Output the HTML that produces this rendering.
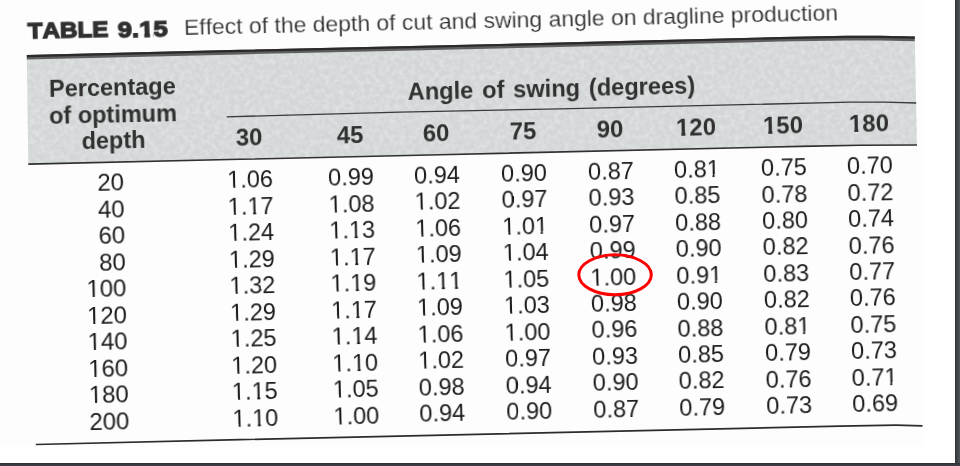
<!DOCTYPE html>
<html><head><meta charset="utf-8"><title>TABLE 9.15</title>
<style>
html,body{margin:0;padding:0;background:#fff;}
body{width:960px;height:466px;overflow:hidden;position:relative;font-family:"Liberation Sans",sans-serif;}
#page{position:absolute;left:0;top:0;width:960px;height:466px;overflow:hidden;background:#fff;}
#paper{position:absolute;left:0;top:0;width:924.8px;height:445.6px;background:#fdfdfd;}
#rot{position:absolute;left:0;top:0;width:960px;height:466px;transform-origin:0 0;transform:rotate(-1.28deg);will-change:transform;}
#rot div{position:absolute;white-space:nowrap;line-height:1;color:#1c1c1c;font-kerning:none;}
#rot .r{-webkit-text-stroke:0.0px #fdfdfd;}
#rot .ct{-webkit-text-stroke:0.25px #fdfdfd;color:#222;}
#rot .b{font-weight:bold;color:#303030;}
.o{position:relative;display:inline-block;}
.o::before,.o::after{content:"";position:absolute;top:0.7em;height:0.23em;background:#fdfdfd;}
.o::before{left:0.02em;width:0.228em;}
.o::after{left:0.344em;width:0.21em;}
.b .o::before,.b .o::after{top:0.66em;height:0.27em;background:#d7dadb;}
.b .o::before{left:0.01em;width:0.22em;}
.b .o::after{left:0.374em;width:0.19em;}
.cap .o::before,.cap .o::after{background:#fdfdfd;top:0.6em;height:0.36em;}
.cap .o::before{left:-0.03em;width:0.228em;}
.cap .o::after{left:0.405em;width:0.158em;}
#bR{position:absolute;left:955px;top:0;width:5px;height:466px;background:linear-gradient(90deg,#2f3235,#53575b);}
#bB{position:absolute;left:0;top:463px;width:960px;height:3px;background:linear-gradient(180deg,#2e3134,#3f4346);}
svg{position:absolute;left:0;top:0;}
</style></head><body>
<div id="page">
<div id="paper"></div>
<svg width="960" height="466" viewBox="0 0 960 466">
<defs><filter id="nz" x="0" y="0" width="100%" height="100%"><feTurbulence type="fractalNoise" baseFrequency="0.2" numOctaves="2" seed="7"/><feColorMatrix type="matrix" values="0 0 0 0 1  0 0 0 0 1  0 0 0 0 1  1.8 0 0 0 -0.6"/></filter><clipPath id="bc"><polygon points="26.80,58.50 240.00,53.30 400.00,49.70 560.00,46.00 620.00,44.50 780.00,40.50 847.00,39.30 880.00,39.30 914.80,40.10 917.00,145.00 860.00,145.30 800.00,146.40 440.00,154.70 240.00,159.30 28.30,164.10"/></clipPath></defs>
<polygon fill="#d2d6d7" points="26.80,58.50 240.00,53.30 400.00,49.70 560.00,46.00 620.00,44.50 780.00,40.50 847.00,39.30 880.00,39.30 914.80,40.10 917.00,145.00 860.00,145.30 800.00,146.40 440.00,154.70 240.00,159.30 28.30,164.10"/>
<g clip-path="url(#bc)"><rect x="20" y="30" width="905" height="140" filter="url(#nz)" opacity="0.36"/></g>
<polygon fill="#5e5e5e" points="26.80,55.00 240.00,49.80 400.00,46.20 560.00,42.50 620.00,41.00 780.00,37.00 847.00,35.80 880.00,35.80 914.80,36.60 914.80,41.20 880.00,40.40 847.00,40.40 780.00,41.60 620.00,45.60 560.00,47.10 400.00,50.80 240.00,54.40 26.80,59.60"/>
<polygon fill="#2a2a2a" points="26.80,55.00 240.00,49.80 400.00,46.20 560.00,42.50 620.00,41.00 780.00,37.00 847.00,35.80 880.00,35.80 914.80,36.60 914.80,38.80 880.00,38.00 847.00,38.00 780.00,39.20 620.00,43.20 560.00,44.70 400.00,48.40 240.00,52.00 26.80,57.20"/>
<polygon fill="#3a3a3a" points="226.70,116.15 290.00,114.45 400.00,111.55 560.00,108.25 850.00,101.55 885.00,101.55 916.20,102.35 916.20,103.65 885.00,102.85 850.00,102.85 560.00,109.55 400.00,112.85 290.00,115.75 226.70,117.45"/>
<polygon fill="#303030" points="28.30,163.30 240.00,158.50 440.00,153.90 800.00,145.60 860.00,144.50 917.00,144.20 917.00,145.80 860.00,146.10 800.00,147.20 440.00,155.50 240.00,160.10 28.30,164.90"/>
<polygon fill="#2c2c2c" points="35.80,443.65 240.00,438.75 720.00,428.05 840.00,425.35 896.00,424.35 922.50,425.05 922.50,426.75 896.00,426.05 840.00,427.05 720.00,429.75 240.00,440.45 35.80,445.35"/>
</svg>
<div id="rot">
<div class="cap" style="left:27.00px;top:20.92px;font-size:22.3px;font-weight:bold;transform-origin:0 0;-webkit-text-stroke:1.3px #303030;color:#303030;transform:scaleX(1.085);">TABLE</div>
<div class="cap" style="left:117.20px;top:21.62px;font-size:22.3px;font-weight:bold;transform-origin:0 0;-webkit-text-stroke:1.3px #303030;color:#303030;transform:scaleX(1.15);">9.<span class="o">1</span>5</div>
<div class="ct" style="left:183.30px;top:20.37px;font-size:22.95px;">Effect of the depth of cut and swing angle on dragline production</div>
<div class="b" style="left:110.40px;top:78.91px;font-size:23.5px;transform:translateX(-50%) scaleX(1);">Percentage</div>
<div class="b" style="left:110.40px;top:105.91px;font-size:23.5px;transform:translateX(-50%) scaleX(1);">of optimum</div>
<div class="b" style="left:110.40px;top:131.81px;font-size:23.5px;transform:translateX(-50%) scaleX(1);">depth</div>
<div class="b" style="left:405.60px;top:89.92px;font-size:23.6px;word-spacing:2.3px;">Angle of swing (degrees)</div>
<div class="b" style="left:246.30px;top:132.19px;font-size:23.4px;transform:translateX(-50%) scaleX(1.02);">30</div>
<div class="b" style="left:347.20px;top:132.19px;font-size:23.4px;transform:translateX(-50%) scaleX(1.02);">45</div>
<div class="b" style="left:433.00px;top:132.19px;font-size:23.4px;transform:translateX(-50%) scaleX(1.02);">60</div>
<div class="b" style="left:520.20px;top:132.19px;font-size:23.4px;transform:translateX(-50%) scaleX(1.02);">75</div>
<div class="b" style="left:606.90px;top:132.19px;font-size:23.4px;transform:translateX(-50%) scaleX(1.02);">90</div>
<div class="b" style="left:693.00px;top:132.19px;font-size:23.4px;transform:translateX(-50%) scaleX(1.02);"><span class="o">1</span>20</div>
<div class="b" style="left:780.00px;top:132.19px;font-size:23.4px;transform:translateX(-50%) scaleX(1.02);"><span class="o">1</span>50</div>
<div class="b" style="left:866.40px;top:132.19px;font-size:23.4px;transform:translateX(-50%) scaleX(1.02);"><span class="o">1</span>80</div>
<div class="r" style="left:120.00px;top:174.43px;font-size:23.35px;transform-origin:100% 50%;transform:translateX(-100%) scaleX(1.03);">20</div>
<div class="r" style="left:246.30px;top:174.43px;font-size:23.35px;transform:translateX(-50%) scaleX(1.01);"><span class="o">1</span>.06</div>
<div class="r" style="left:347.20px;top:174.43px;font-size:23.35px;transform:translateX(-50%) scaleX(1.01);">0.99</div>
<div class="r" style="left:433.00px;top:174.03px;font-size:23.35px;transform:translateX(-50%) scaleX(1.01);">0.94</div>
<div class="r" style="left:520.20px;top:174.03px;font-size:23.35px;transform:translateX(-50%) scaleX(1.01);">0.90</div>
<div class="r" style="left:606.90px;top:173.83px;font-size:23.35px;transform:translateX(-50%) scaleX(1.01);">0.87</div>
<div class="r" style="left:693.00px;top:173.83px;font-size:23.35px;transform:translateX(-50%) scaleX(1.01);">0.8<span class="o">1</span></div>
<div class="r" style="left:780.00px;top:174.13px;font-size:23.35px;transform:translateX(-50%) scaleX(1.01);">0.75</div>
<div class="r" style="left:866.40px;top:174.23px;font-size:23.35px;transform:translateX(-50%) scaleX(1.01);">0.70</div>
<div class="r" style="left:120.00px;top:200.92px;font-size:23.35px;transform-origin:100% 50%;transform:translateX(-100%) scaleX(1.03);">40</div>
<div class="r" style="left:246.30px;top:200.92px;font-size:23.35px;transform:translateX(-50%) scaleX(1.01);"><span class="o">1</span>.<span class="o">1</span>7</div>
<div class="r" style="left:347.20px;top:200.89px;font-size:23.35px;transform:translateX(-50%) scaleX(1.01);"><span class="o">1</span>.08</div>
<div class="r" style="left:433.00px;top:200.47px;font-size:23.35px;transform:translateX(-50%) scaleX(1.01);"><span class="o">1</span>.02</div>
<div class="r" style="left:520.20px;top:200.47px;font-size:23.35px;transform:translateX(-50%) scaleX(1.01);">0.97</div>
<div class="r" style="left:606.90px;top:200.26px;font-size:23.35px;transform:translateX(-50%) scaleX(1.01);">0.93</div>
<div class="r" style="left:693.00px;top:200.29px;font-size:23.35px;transform:translateX(-50%) scaleX(1.01);">0.85</div>
<div class="r" style="left:780.00px;top:200.58px;font-size:23.35px;transform:translateX(-50%) scaleX(1.01);">0.78</div>
<div class="r" style="left:866.40px;top:200.66px;font-size:23.35px;transform:translateX(-50%) scaleX(1.01);">0.72</div>
<div class="r" style="left:120.00px;top:227.41px;font-size:23.35px;transform-origin:100% 50%;transform:translateX(-100%) scaleX(1.03);">60</div>
<div class="r" style="left:246.30px;top:227.41px;font-size:23.35px;transform:translateX(-50%) scaleX(1.01);"><span class="o">1</span>.24</div>
<div class="r" style="left:347.20px;top:227.35px;font-size:23.35px;transform:translateX(-50%) scaleX(1.01);"><span class="o">1</span>.<span class="o">1</span>3</div>
<div class="r" style="left:433.00px;top:226.90px;font-size:23.35px;transform:translateX(-50%) scaleX(1.01);"><span class="o">1</span>.06</div>
<div class="r" style="left:520.20px;top:226.90px;font-size:23.35px;transform:translateX(-50%) scaleX(1.01);"><span class="o">1</span>.0<span class="o">1</span></div>
<div class="r" style="left:606.90px;top:226.68px;font-size:23.35px;transform:translateX(-50%) scaleX(1.01);">0.97</div>
<div class="r" style="left:693.00px;top:226.75px;font-size:23.35px;transform:translateX(-50%) scaleX(1.01);">0.88</div>
<div class="r" style="left:780.00px;top:227.03px;font-size:23.35px;transform:translateX(-50%) scaleX(1.01);">0.80</div>
<div class="r" style="left:866.40px;top:227.08px;font-size:23.35px;transform:translateX(-50%) scaleX(1.01);">0.74</div>
<div class="r" style="left:120.00px;top:253.90px;font-size:23.35px;transform-origin:100% 50%;transform:translateX(-100%) scaleX(1.03);">80</div>
<div class="r" style="left:246.30px;top:253.90px;font-size:23.35px;transform:translateX(-50%) scaleX(1.01);"><span class="o">1</span>.29</div>
<div class="r" style="left:347.20px;top:253.80px;font-size:23.35px;transform:translateX(-50%) scaleX(1.01);"><span class="o">1</span>.<span class="o">1</span>7</div>
<div class="r" style="left:433.00px;top:253.34px;font-size:23.35px;transform:translateX(-50%) scaleX(1.01);"><span class="o">1</span>.09</div>
<div class="r" style="left:520.20px;top:253.34px;font-size:23.35px;transform:translateX(-50%) scaleX(1.01);"><span class="o">1</span>.04</div>
<div class="r" style="left:606.90px;top:253.10px;font-size:23.35px;transform:translateX(-50%) scaleX(1.01);">0.99</div>
<div class="r" style="left:693.00px;top:253.20px;font-size:23.35px;transform:translateX(-50%) scaleX(1.01);">0.90</div>
<div class="r" style="left:780.00px;top:253.47px;font-size:23.35px;transform:translateX(-50%) scaleX(1.01);">0.82</div>
<div class="r" style="left:866.40px;top:253.50px;font-size:23.35px;transform:translateX(-50%) scaleX(1.01);">0.76</div>
<div class="r" style="left:120.00px;top:280.39px;font-size:23.35px;transform-origin:100% 50%;transform:translateX(-100%) scaleX(1.03);"><span class="o">1</span>00</div>
<div class="r" style="left:246.30px;top:280.39px;font-size:23.35px;transform:translateX(-50%) scaleX(1.01);"><span class="o">1</span>.32</div>
<div class="r" style="left:347.20px;top:280.26px;font-size:23.35px;transform:translateX(-50%) scaleX(1.01);"><span class="o">1</span>.<span class="o">1</span>9</div>
<div class="r" style="left:433.00px;top:279.77px;font-size:23.35px;transform:translateX(-50%) scaleX(1.01);"><span class="o">1</span>.<span class="o">1</span><span class="o">1</span></div>
<div class="r" style="left:520.20px;top:279.77px;font-size:23.35px;transform:translateX(-50%) scaleX(1.01);"><span class="o">1</span>.05</div>
<div class="r" style="left:606.90px;top:279.53px;font-size:23.35px;transform:translateX(-50%) scaleX(1.01);"><span class="o">1</span>.00</div>
<div class="r" style="left:693.00px;top:279.66px;font-size:23.35px;transform:translateX(-50%) scaleX(1.01);">0.9<span class="o">1</span></div>
<div class="r" style="left:780.00px;top:279.92px;font-size:23.35px;transform:translateX(-50%) scaleX(1.01);">0.83</div>
<div class="r" style="left:866.40px;top:279.93px;font-size:23.35px;transform:translateX(-50%) scaleX(1.01);">0.77</div>
<div class="r" style="left:120.00px;top:306.88px;font-size:23.35px;transform-origin:100% 50%;transform:translateX(-100%) scaleX(1.03);"><span class="o">1</span>20</div>
<div class="r" style="left:246.30px;top:306.88px;font-size:23.35px;transform:translateX(-50%) scaleX(1.01);"><span class="o">1</span>.29</div>
<div class="r" style="left:347.20px;top:306.72px;font-size:23.35px;transform:translateX(-50%) scaleX(1.01);"><span class="o">1</span>.<span class="o">1</span>7</div>
<div class="r" style="left:433.00px;top:306.21px;font-size:23.35px;transform:translateX(-50%) scaleX(1.01);"><span class="o">1</span>.09</div>
<div class="r" style="left:520.20px;top:306.21px;font-size:23.35px;transform:translateX(-50%) scaleX(1.01);"><span class="o">1</span>.03</div>
<div class="r" style="left:606.90px;top:305.95px;font-size:23.35px;transform:translateX(-50%) scaleX(1.01);">0.98</div>
<div class="r" style="left:693.00px;top:306.12px;font-size:23.35px;transform:translateX(-50%) scaleX(1.01);">0.90</div>
<div class="r" style="left:780.00px;top:306.36px;font-size:23.35px;transform:translateX(-50%) scaleX(1.01);">0.82</div>
<div class="r" style="left:866.40px;top:306.35px;font-size:23.35px;transform:translateX(-50%) scaleX(1.01);">0.76</div>
<div class="r" style="left:120.00px;top:333.37px;font-size:23.35px;transform-origin:100% 50%;transform:translateX(-100%) scaleX(1.03);"><span class="o">1</span>40</div>
<div class="r" style="left:246.30px;top:333.37px;font-size:23.35px;transform:translateX(-50%) scaleX(1.01);"><span class="o">1</span>.25</div>
<div class="r" style="left:347.20px;top:333.17px;font-size:23.35px;transform:translateX(-50%) scaleX(1.01);"><span class="o">1</span>.<span class="o">1</span>4</div>
<div class="r" style="left:433.00px;top:332.64px;font-size:23.35px;transform:translateX(-50%) scaleX(1.01);"><span class="o">1</span>.06</div>
<div class="r" style="left:520.20px;top:332.64px;font-size:23.35px;transform:translateX(-50%) scaleX(1.01);"><span class="o">1</span>.00</div>
<div class="r" style="left:606.90px;top:332.37px;font-size:23.35px;transform:translateX(-50%) scaleX(1.01);">0.96</div>
<div class="r" style="left:693.00px;top:332.57px;font-size:23.35px;transform:translateX(-50%) scaleX(1.01);">0.88</div>
<div class="r" style="left:780.00px;top:332.81px;font-size:23.35px;transform:translateX(-50%) scaleX(1.01);">0.8<span class="o">1</span></div>
<div class="r" style="left:866.40px;top:332.77px;font-size:23.35px;transform:translateX(-50%) scaleX(1.01);">0.75</div>
<div class="r" style="left:120.00px;top:359.86px;font-size:23.35px;transform-origin:100% 50%;transform:translateX(-100%) scaleX(1.03);"><span class="o">1</span>60</div>
<div class="r" style="left:246.30px;top:359.86px;font-size:23.35px;transform:translateX(-50%) scaleX(1.01);"><span class="o">1</span>.20</div>
<div class="r" style="left:347.20px;top:359.63px;font-size:23.35px;transform:translateX(-50%) scaleX(1.01);"><span class="o">1</span>.<span class="o">1</span>0</div>
<div class="r" style="left:433.00px;top:359.08px;font-size:23.35px;transform:translateX(-50%) scaleX(1.01);"><span class="o">1</span>.02</div>
<div class="r" style="left:520.20px;top:359.08px;font-size:23.35px;transform:translateX(-50%) scaleX(1.01);">0.97</div>
<div class="r" style="left:606.90px;top:358.80px;font-size:23.35px;transform:translateX(-50%) scaleX(1.01);">0.93</div>
<div class="r" style="left:693.00px;top:359.03px;font-size:23.35px;transform:translateX(-50%) scaleX(1.01);">0.85</div>
<div class="r" style="left:780.00px;top:359.25px;font-size:23.35px;transform:translateX(-50%) scaleX(1.01);">0.79</div>
<div class="r" style="left:866.40px;top:359.20px;font-size:23.35px;transform:translateX(-50%) scaleX(1.01);">0.73</div>
<div class="r" style="left:120.00px;top:386.35px;font-size:23.35px;transform-origin:100% 50%;transform:translateX(-100%) scaleX(1.03);"><span class="o">1</span>80</div>
<div class="r" style="left:246.30px;top:386.35px;font-size:23.35px;transform:translateX(-50%) scaleX(1.01);"><span class="o">1</span>.<span class="o">1</span>5</div>
<div class="r" style="left:347.20px;top:386.09px;font-size:23.35px;transform:translateX(-50%) scaleX(1.01);"><span class="o">1</span>.05</div>
<div class="r" style="left:433.00px;top:385.51px;font-size:23.35px;transform:translateX(-50%) scaleX(1.01);">0.98</div>
<div class="r" style="left:520.20px;top:385.51px;font-size:23.35px;transform:translateX(-50%) scaleX(1.01);">0.94</div>
<div class="r" style="left:606.90px;top:385.22px;font-size:23.35px;transform:translateX(-50%) scaleX(1.01);">0.90</div>
<div class="r" style="left:693.00px;top:385.49px;font-size:23.35px;transform:translateX(-50%) scaleX(1.01);">0.82</div>
<div class="r" style="left:780.00px;top:385.70px;font-size:23.35px;transform:translateX(-50%) scaleX(1.01);">0.76</div>
<div class="r" style="left:866.40px;top:385.62px;font-size:23.35px;transform:translateX(-50%) scaleX(1.01);">0.7<span class="o">1</span></div>
<div class="r" style="left:120.00px;top:412.84px;font-size:23.35px;transform-origin:100% 50%;transform:translateX(-100%) scaleX(1.03);">200</div>
<div class="r" style="left:246.30px;top:412.84px;font-size:23.35px;transform:translateX(-50%) scaleX(1.01);"><span class="o">1</span>.<span class="o">1</span>0</div>
<div class="r" style="left:347.20px;top:412.54px;font-size:23.35px;transform:translateX(-50%) scaleX(1.01);"><span class="o">1</span>.00</div>
<div class="r" style="left:433.00px;top:411.94px;font-size:23.35px;transform:translateX(-50%) scaleX(1.01);">0.94</div>
<div class="r" style="left:520.20px;top:411.94px;font-size:23.35px;transform:translateX(-50%) scaleX(1.01);">0.90</div>
<div class="r" style="left:606.90px;top:411.64px;font-size:23.35px;transform:translateX(-50%) scaleX(1.01);">0.87</div>
<div class="r" style="left:693.00px;top:411.94px;font-size:23.35px;transform:translateX(-50%) scaleX(1.01);">0.79</div>
<div class="r" style="left:780.00px;top:412.14px;font-size:23.35px;transform:translateX(-50%) scaleX(1.01);">0.73</div>
<div class="r" style="left:866.40px;top:412.04px;font-size:23.35px;transform:translateX(-50%) scaleX(1.01);">0.69</div>
</div>
<svg width="960" height="466" viewBox="0 0 960 466"><ellipse cx="615.05" cy="274.8" rx="36.25" ry="19.95" fill="none" stroke="#fe0000" stroke-width="3"/></svg>
<div id="bR"></div><div id="bB"></div>
</div></body></html>
